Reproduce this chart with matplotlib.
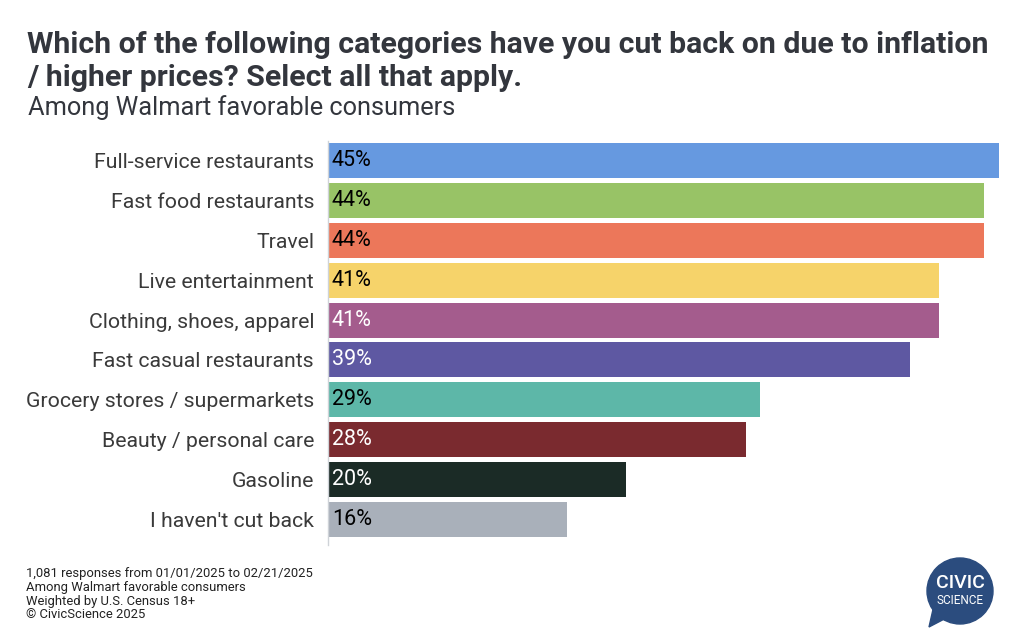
import matplotlib
matplotlib.use("Agg")
import matplotlib.pyplot as plt
from matplotlib.patches import Circle, Polygon

categories = ["Full-service restaurants", "Fast food restaurants", "Travel",
              "Live entertainment", "Clothing, shoes, apparel",
              "Fast casual restaurants", "Grocery stores / supermarkets",
              "Beauty / personal care", "Gasoline", "I haven't cut back"]
values = [45, 44, 44, 41, 41, 39, 29, 28, 20, 16]
colors = ["#6699E0", "#98C366", "#EC775A", "#F6D36A", "#A45C8D",
          "#5E58A2", "#5DB7A8", "#7A2A2F", "#1B2B26", "#A9B0BA"]
label_colors = ["black", "black", "black", "black", "white",
                "white", "black", "white", "white", "black"]

plt.rcParams['font.family'] = ['Roboto', 'DejaVu Sans']

fig = plt.figure(figsize=(10.24, 6.4), dpi=100)
ax = fig.add_axes([328/1024, 1-539/640, (999-328)/1024, (539-141)/640])

y = list(range(len(categories)))
ax.barh(y, values, height=0.88, color=colors, left=0)
ax.set_xlim(0, 45)
ax.set_ylim(len(categories)-0.5, -0.5)
ax.set_yticks(y)
ax.set_yticklabels(categories, fontsize=15.3, color="#3a3a3a")
ax.tick_params(axis='y', length=0, pad=10)
ax.set_xticks([])
for s in ["top", "right", "bottom"]:
    ax.spines[s].set_visible(False)
ax.spines["left"].set_color("#cfd3d8")
ax.spines["left"].set_linewidth(1)
ax.spines["left"].set_bounds(len(categories)-0.35, -0.5)

for i, (v, c) in enumerate(zip(values, label_colors)):
    ax.text(0.25, i, f"{v}%", va="center", ha="left", fontsize=15.5, color=c)

title_kw = dict(fontsize=21.8, fontweight="bold", color="#33363D", va="center", ha="left")
fig.text(27/1024, 1-45/640, "Which of the following categories have you cut back on due to inflation", **title_kw)
fig.text(27/1024, 1-78/640, "/ higher prices? Select all that apply.", **title_kw)
fig.text(28/1024, 1-108/640, "Among Walmart favorable consumers",
         fontsize=18.3, color="#33363D", va="center", ha="left")

footer = ["1,081 responses from 01/01/2025 to 02/21/2025",
          "Among Walmart favorable consumers",
          "Weighted by U.S. Census 18+",
          "\u00a9 CivicScience 2025"]
for k, line in enumerate(footer):
    fig.text(26/1024, 1-(573+k*14)/640, line, fontsize=9.4, color="#222222",
             va="center", ha="left")

# logo
lax = fig.add_axes([0, 0, 1, 1], facecolor="none")
lax.set_xlim(0, 1024)
lax.set_ylim(640, 0)
lax.axis("off")
lax.add_patch(Circle((960, 591), 33, color="#2B4C7E"))
lax.add_patch(Polygon([[934, 605], [929, 627], [952, 615]], closed=True, color="#2B4C7E"))
lax.text(960, 583, "CIVIC", color="white", fontsize=14, fontweight="medium",
         ha="center", va="center")
lax.text(960, 601, "SCIENCE", color="white", fontsize=8.5,
         ha="center", va="center")

fig.savefig("out.png", dpi=100, facecolor="white")
